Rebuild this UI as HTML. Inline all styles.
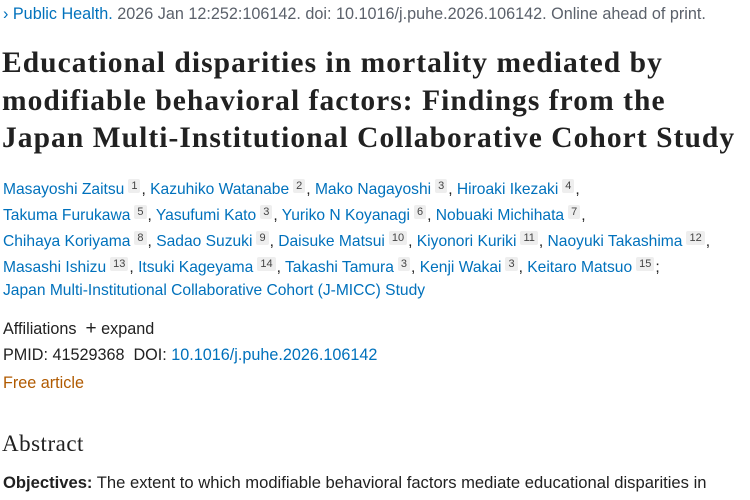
<!DOCTYPE html>
<html><head><meta charset="utf-8"><style>
body{margin:0;width:750px;height:500px;overflow:hidden;background:#fff;font-family:"Liberation Sans",sans-serif;color:#212121;}
.a{color:#0071bc;}
.l{position:absolute;left:3px;white-space:nowrap;font-size:16.2px;}
.au{font-size:15.6px;}
sup{font-size:11px;color:#444;background:#eee;padding:1px 3px;border-radius:2px;vertical-align:5px;margin:0 1px 0 4px;}
h1{position:absolute;left:2px;top:45px;margin:0;font-family:"Liberation Serif",serif;font-weight:bold;font-size:29.5px;line-height:37.5px;white-space:nowrap;color:#212121;letter-spacing:1.05px;}
h2{position:absolute;left:2px;top:431px;margin:0;font-family:"Liberation Serif",serif;font-weight:normal;font-size:23px;letter-spacing:0.5px;}
</style></head><body>
<div class="l" style="top:5px;color:#5b616b"><span class="a">&#x203A; Public Health.</span> 2026 Jan 12:252:106142. doi: 10.1016/j.puhe.2026.106142. Online ahead of print.</div>
<h1>Educational disparities in mortality mediated by<br>modifiable behavioral factors: Findings from the<br>Japan Multi-Institutional Collaborative Cohort Study</h1>
<div class="l au" style="top:180px"><span class="a">Masayoshi Zaitsu</span><sup>1</sup>, <span class="a">Kazuhiko Watanabe</span><sup>2</sup>, <span class="a">Mako Nagayoshi</span><sup>3</sup>, <span class="a">Hiroaki Ikezaki</span><sup>4</sup>,</div>
<div class="l au" style="top:206px"><span class="a">Takuma Furukawa</span><sup>5</sup>, <span class="a">Yasufumi Kato</span><sup>3</sup>, <span class="a">Yuriko N Koyanagi</span><sup>6</sup>, <span class="a">Nobuaki Michihata</span><sup>7</sup>,</div>
<div class="l au" style="top:232px"><span class="a">Chihaya Koriyama</span><sup>8</sup>, <span class="a">Sadao Suzuki</span><sup>9</sup>, <span class="a">Daisuke Matsui</span><sup>10</sup>, <span class="a">Kiyonori Kuriki</span><sup>11</sup>, <span class="a">Naoyuki Takashima</span><sup>12</sup>,</div>
<div class="l au" style="top:258px"><span class="a">Masashi Ishizu</span><sup>13</sup>, <span class="a">Itsuki Kageyama</span><sup>14</sup>, <span class="a">Takashi Tamura</span><sup>3</sup>, <span class="a">Kenji Wakai</span><sup>3</sup>, <span class="a">Keitaro Matsuo</span><sup>15</sup>;</div>
<div class="l au" style="top:282px"><span class="a">Japan Multi-Institutional Collaborative Cohort (J-MICC) Study</span></div>
<div class="l" style="top:318px">Affiliations &nbsp;<b style="font-weight:normal;font-size:19px">+</b> expand</div>
<div class="l" style="top:346px">PMID: 41529368 &nbsp;DOI: <span class="a">10.1016/j.puhe.2026.106142</span></div>
<div class="l" style="top:374px;color:#b05a00">Free article</div>
<h2>Abstract</h2>
<div class="l" style="top:473px;font-size:16.6px"><b>Objectives:</b> The extent to which modifiable behavioral factors mediate educational disparities in</div>
</body></html>
